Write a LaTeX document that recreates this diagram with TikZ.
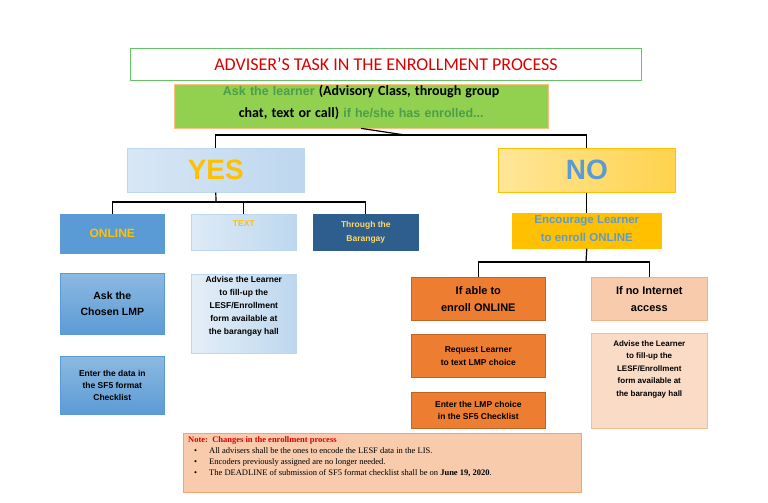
\documentclass[tikz,border=0pt]{standalone}
\usepackage{fontspec}
\setmainfont{Liberation Sans}
\newfontfamily\serifn{Liberation Serif}
\newfontfamily\carl{Carlito}
\begin{document}
\begin{tikzpicture}[x=1pt,y=-1pt,
  bx/.style={draw=#1,line width=0.6pt,anchor=north west,inner sep=2pt,align=center,font=\bfseries\fontsize{9}{11}\selectfont},
  conn/.style={line width=1.2pt,black}]
\definecolor{lblue}{HTML}{BDD7EE}\definecolor{mblue}{HTML}{5B9BD5}\definecolor{dblue}{HTML}{2E5E8E}
\definecolor{yel}{HTML}{FFC000}\definecolor{lyel}{HTML}{FFE699}
\definecolor{org}{HTML}{ED7D31}\definecolor{peach}{HTML}{F8CBAD}
\definecolor{lgreen}{HTML}{92D050}
\useasboundingbox (0,0) rectangle (768,503);
\fill[white] (0,0) rectangle (768,503);
% title
\node[draw=green!60!black!60,line width=1pt,minimum width=511,minimum height=32,anchor=north west,font=\carl\fontsize{18}{20}\selectfont,text=red!85!black] (title) at (130,48) {ADVISER’S TASK IN THE ENROLLMENT PROCESS};
\node[fill=lgreen,draw=orange!50,minimum width=374,minimum height=44,anchor=north west,inner sep=0pt] (ask) at (174,84) {};
\node[font=\fontsize{12.5}{22}\selectfont,align=center,text width=372,inner sep=0pt] (askt) at ([yshift=4]ask.center) {\textcolor{green!45!black!70}{\bfseries Ask the learner} {\carl\bfseries\fontsize{14}{22}\selectfont (Advisory Class, through group chat, text or call)} \textcolor{green!45!black!70}{\bfseries if he/she has enrolled...}};
\fill[white] (170,128.5) rectangle (552,134);
\node[bx=lblue,left color=lblue!60,right color=lblue,minimum width=177,minimum height=44,font=\bfseries\fontsize{28}{30}\selectfont,text=yel] (yes) at (127,148) {YES};
\node[bx=yel,left color=lyel,right color=yel!70,minimum width=177,minimum height=44,font=\bfseries\fontsize{28}{30}\selectfont,text=mblue] (no) at (498,148) {NO};
\node[bx=mblue,fill=mblue,minimum width=104,minimum height=39,font=\bfseries\fontsize{12}{14}\selectfont,text=yel] (online) at (60,214) {ONLINE};
\node[bx=lblue,left color=lblue!50,right color=lblue,minimum width=105,minimum height=36,text=yel,font=\bfseries\fontsize{8.5}{10}\selectfont] (text) at (191,214) {TEXT\\[8pt]};
\node[bx=dblue,fill=dblue,minimum width=105,minimum height=36,text=yel!60,font=\bfseries\fontsize{8.5}{14}\selectfont] (bar) at (313,214) {Through the\\Barangay};
\node[bx=yel,fill=yel,minimum width=149,minimum height=35,text=mblue,font=\bfseries\fontsize{11.5}{18}\selectfont,inner sep=0pt] (enc) at (512,213) {Encourage Learner\\to enroll ONLINE\\[-13pt]};
\node[bx=mblue,top color=mblue!70,bottom color=mblue,minimum width=104,minimum height=61,font=\bfseries\fontsize{10.5}{16}\selectfont] (lmp) at (60,273) {Ask the\\Chosen LMP};
\node[bx=mblue,top color=mblue!70,bottom color=mblue,minimum width=104,minimum height=58,font=\bfseries\fontsize{8.5}{12}\selectfont] (enter) at (60,356) {Enter the data in\\the SF5 format\\Checklist};
\node[bx=lblue,left color=lblue!40,right color=lblue,minimum width=105,minimum height=70,anchor=north west,font=\bfseries\fontsize{8.5}{13}\selectfont] (adv1) at (191,274) {Advise the Learner\\to fill-up the\\LESF/Enrollment\\form available at\\the barangay hall\\[4pt]};
\node[bx=org!80!black,fill=org,minimum width=134,minimum height=43,font=\bfseries\fontsize{11}{17}\selectfont] (able) at (411,277) {If able to\\enroll ONLINE};
\node[bx=org!60,fill=peach,minimum width=116,minimum height=43,font=\bfseries\fontsize{11}{17}\selectfont] (noint) at (591,277) {If no Internet\\access};
\node[bx=org!80!black,fill=org,minimum width=134,minimum height=43,font=\bfseries\fontsize{8.5}{13}\selectfont] (req) at (411,334) {Request Learner\\to text LMP choice};
\node[bx=org!80!black,fill=org,minimum width=134,minimum height=36,font=\bfseries\fontsize{8.5}{12}\selectfont] (elmp) at (411,392) {Enter the LMP choice\\in the SF5 Checklist};
\node[bx=org!50,fill=peach!70,minimum width=116,minimum height=95,font=\bfseries\fontsize{8}{12.5}\selectfont] (adv2) at (591,333) {Advise the Learner\\to fill-up the\\LESF/Enrollment\\form available at\\the barangay hall\\[12pt]};
\node[draw=org!70,fill=peach,line width=0.6pt,anchor=north west,minimum width=398,minimum height=59,inner sep=0pt] (note) at (183,433) {};
\node[anchor=north west,align=left,font=\serifn\fontsize{8.5}{11}\selectfont,inner sep=0pt] (notet) at (188,436) {\textcolor{red!85!black}{\bfseries Note:\ \ Changes in the enrollment process}\\
\hspace*{6pt}\textbullet\hspace{12pt}All advisers shall be the ones to encode the LESF data in the LIS.\\
\hspace*{6pt}\textbullet\hspace{12pt}Encoders previously assigned are no longer needed.\\
\hspace*{6pt}\textbullet\hspace{12pt}The DEADLINE of submission of SF5 format checklist shall be on \textbf{June 19, 2020}.};
% connectors
\coordinate (b0) at (405,135);
\draw[conn] (ask.south) -- (b0);
\draw[conn] (yes.north) |- (b0) -| (no.north);
\coordinate (b1) at (216,202);
\draw[conn] (yes.south) -- (b1);
\draw[conn] (online.north) |- (b1) -| (bar.north);
\draw[conn] (text.north) -- (text.north |- b1);
\draw[conn] (no.south) -- (enc.north);
\coordinate (b2) at (586,262);
\draw[conn] (enc.south) -- (b2);
\draw[conn] (able.north) |- (b2) -| (noint.north);
\end{tikzpicture}
\end{document}
